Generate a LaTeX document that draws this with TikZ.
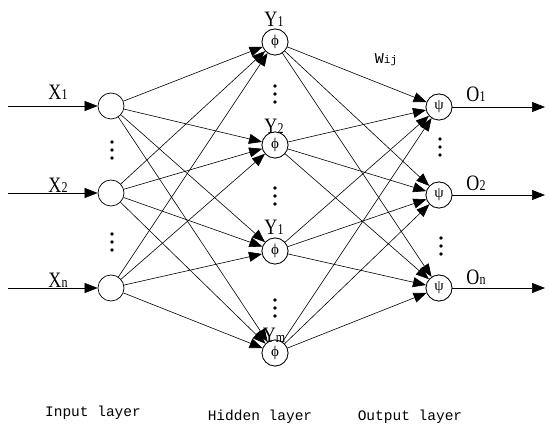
\documentclass[tikz,border=0pt]{standalone}
\usepackage{fontspec}
\setmainfont{Liberation Serif}
\setmonofont{Liberation Mono}
\usetikzlibrary{arrows.meta}
\newcommand{\nnlabel}[2]{{\fontsize{22}{22}\selectfont\scalebox{0.82}[1]{#1}}{\fontsize{15}{15}\selectfont\scalebox{0.8}[1]{#2}}}
\newcommand{\dotcol}[2]{\fill (#1,#2) circle (1.8pt); \fill (#1,#2+8) circle (1.8pt); \fill (#1,#2+16) circle (1.8pt);}
\begin{document}
\begin{tikzpicture}[x=1pt,y=-1pt,
  neuron/.style={circle,draw,line width=0.7pt,minimum size=26pt,inner sep=0pt,fill=white},
  conn/.style={line width=0.6pt,-{Triangle[length=13pt,width=10pt]}},
  lbl/.style={inner sep=0pt},
  layer/.style={inner sep=0pt,font=\ttfamily\fontsize{14.5}{14.5}\selectfont}]
\useasboundingbox (0,0) rectangle (550,433);
% input nodes
\node[neuron] (i1) at (111,106) {};
\node[neuron] (i2) at (111,193) {};
\node[neuron] (i3) at (111,288) {};
% hidden nodes
\node[neuron] (h1) at (275,42) {};
\node[neuron] (h2) at (275,145) {};
\node[neuron] (h3) at (275,251) {};
\node[neuron] (h4) at (275,353) {};
% output nodes
\node[neuron] (o1) at (439,107) {};
\node[neuron] (o2) at (439,195) {};
\node[neuron] (o3) at (439,288) {};
% input arrows
\coordinate (s1) at (8,106);
\coordinate (s2) at (8,193);
\coordinate (s3) at (8,288);
\draw[conn] (s1) -- (i1);
\draw[conn] (s2) -- (i2);
\draw[conn] (s3) -- (i3);
% output arrows
\coordinate (e1) at (545,107);
\coordinate (e2) at (545,195);
\coordinate (e3) at (545,288);
\draw[conn] (o1) -- (e1);
\draw[conn] (o2) -- (e2);
\draw[conn] (o3) -- (e3);
% input -> hidden
\foreach \i in {1,2,3}{\foreach \h in {1,2,3,4}{\draw[conn] (i\i) -- (h\h);}}
% hidden -> output
\foreach \h in {1,2,3,4}{\foreach \o in {1,2,3}{\draw[conn] (h\h) -- (o\o);}}
% node contents on top
\foreach \n in {h1,h2,h3,h4}{\node[neuron] at (\n) {\fontsize{15}{15}\selectfont ϕ};}
\foreach \n in {o1,o2,o3}{\node[neuron] at (\n) {\fontsize{15}{15}\selectfont ψ};}
% labels
\node[lbl] (lx1) at (58,92) {\nnlabel{X}{1}};
\node[lbl] (lx2) at (58,185) {\nnlabel{X}{2}};
\node[lbl] (lx3) at (58,280) {\nnlabel{X}{n}};
\node[lbl] (ly1) at (274,19) {\nnlabel{Y}{1}};
\node[lbl] (ly2) at (274,126) {\nnlabel{Y}{2}};
\node[lbl] (ly3) at (274,227) {\nnlabel{Y}{1}};
\node[lbl] (ly4) at (274,335) {\nnlabel{Y}{m}};
\node[lbl] (lo1) at (476,94) {\nnlabel{O}{1}};
\node[lbl] (lo2) at (476,183) {\nnlabel{O}{2}};
\node[lbl] (lo3) at (476,277) {\nnlabel{O}{n}};
\node[lbl] (lw) at (386,60) {{\fontsize{15}{15}\selectfont\ttfamily W}{\fontsize{11}{11}\selectfont\ttfamily ij}};
% dots
\dotcol{112}{142}
\dotcol{112}{234}
\dotcol{275}{86}
\dotcol{275}{188}
\dotcol{275}{300}
\dotcol{440}{139}
\dotcol{441}{238}
% layer labels
\node[layer] (L1) at (93,413) {Input layer};
\node[layer] (L2) at (260,417) {Hidden layer};
\node[layer] (L3) at (410,417) {Output layer};
\end{tikzpicture}
\end{document}
